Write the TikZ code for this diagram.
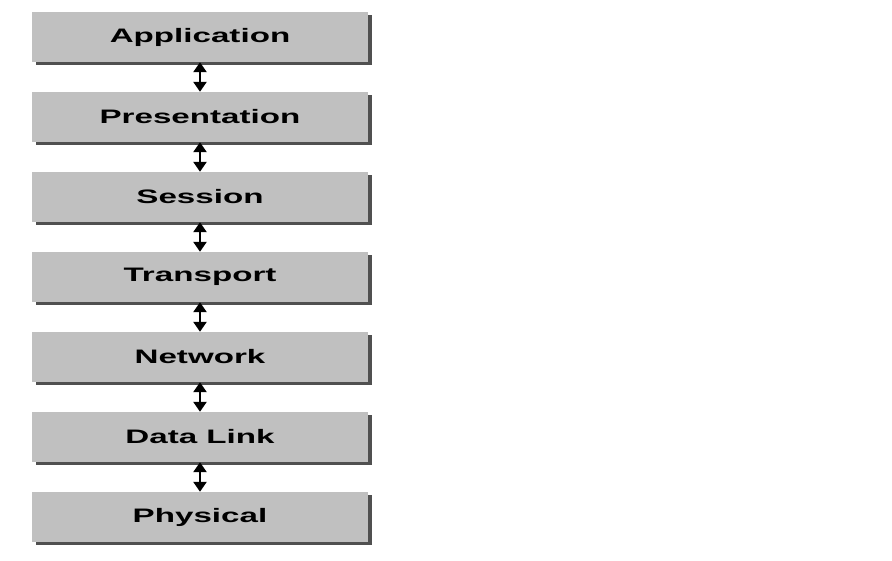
\documentclass[tikz,border=0pt]{standalone}
\usepackage{fontspec}
\newfontfamily\layerfont{Liberation Sans}[FakeStretch=1.7]
\usetikzlibrary{arrows.meta,shadows}
\definecolor{layergray}{RGB}{192,192,192}
\definecolor{shadowgray}{RGB}{80,80,80}
\tikzset{
  layer/.style={fill=layergray, minimum width=336pt, minimum height=50pt, inner sep=0pt,
    font=\layerfont\fontsize{19.5}{22}\selectfont\bfseries,
    drop shadow={shadow xshift=4pt, shadow yshift=-3pt, fill=shadowgray, opacity=1}},
  link/.style={line width=2.5pt, {Triangle[width=13pt,length=10pt]}-{Triangle[width=13pt,length=10pt]}}
}
\begin{document}
\begin{tikzpicture}
\useasboundingbox (0,0) rectangle (892pt,-560pt);
\node[layer] (app) at (200pt,-37pt) {Application};
\node[layer] (pres) at (200pt,-117pt) {Presentation};
\node[layer] (sess) at (200pt,-197pt) {Session};
\node[layer] (trans) at (200pt,-277pt) {Transport};
\node[layer] (net) at (200pt,-357pt) {Network};
\node[layer] (link) at (200pt,-437pt) {Data Link};
\node[layer] (phys) at (200pt,-517pt) {Physical};
\draw[link] (app) -- (pres);
\draw[link] (pres) -- (sess);
\draw[link] (sess) -- (trans);
\draw[link] (trans) -- (net);
\draw[link] (net) -- (link);
\draw[link] (link) -- (phys);
\end{tikzpicture}
\end{document}
